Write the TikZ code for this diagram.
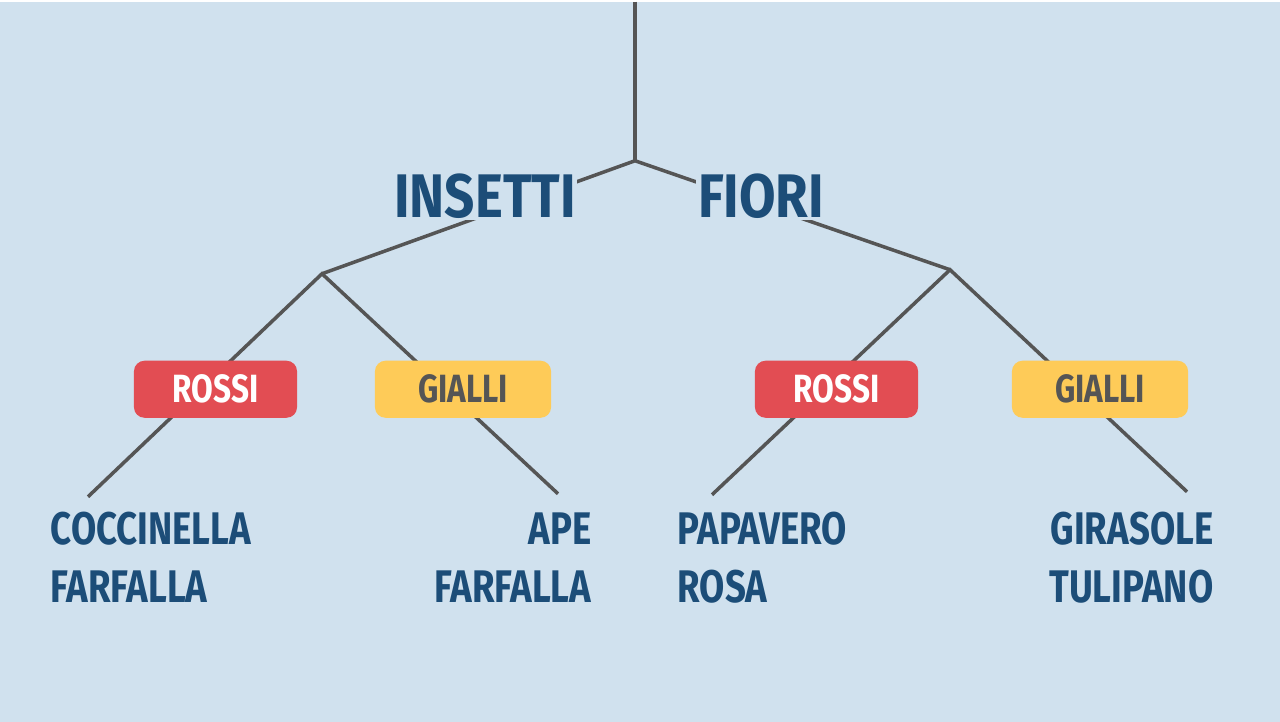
\documentclass[tikz,border=0pt]{standalone}
\usepackage{fontspec}
\newfontfamily\handfont{Fira Sans}[FakeStretch=0.8]
\newfontfamily\titlefont{Fira Sans}[FakeStretch=0.86]
\definecolor{wall}{HTML}{D0E1EE}
\definecolor{ink}{HTML}{1C4D78}
\definecolor{branch}{HTML}{555555}
\definecolor{redbox}{HTML}{E24D53}
\definecolor{yellowbox}{HTML}{FECB58}
\tikzset{
    stem/.style={draw=branch, line width=1pt},
    heading/.style={font=\titlefont\bfseries\fontsize{17.5}{21}\selectfont, text=ink, fill=wall, inner sep=0.5pt},
    tag/.style={rounded corners=3pt, minimum width=#1, minimum height=0.57cm, inner sep=0pt,
            font=\handfont\bfseries\fontsize{11.2}{13}\selectfont},
    redtag/.style={tag=1.63cm, fill=redbox, text=white},
    yellowtag/.style={tag=1.76cm, fill=yellowbox, text=branch},
    leaf/.style={font=\handfont\bfseries\fontsize{13}{16.5}\selectfont, text=ink, inner sep=0pt},
}

\begin{document}
\begin{tikzpicture}[x=0.01cm, y=-0.01cm]
        %draw background
        \fill[wall] (0, 0) rectangle (1280, 720);
        %draw joints
        \coordinate (top) at (635, 0);
        \coordinate (root) at (635, 159);
        \coordinate (jins) at (322, 272);
        \coordinate (jfio) at (950, 268);
        \coordinate (e1) at (88, 495);
        \coordinate (e2) at (558, 492);
        \coordinate (e3) at (712, 493);
        \coordinate (e4) at (1187, 490);
        %draw branches
        \draw[stem] (top) -- (root);
        \draw[stem] (jins) -- (root) -- (jfio);
        \draw[stem] (e1) -- (jins) -- (e2);
        \draw[stem] (e3) -- (jfio) -- (e4);
        %draw headings
        \node[heading] (insetti) at (485, 194) {INSETTI};
        \node[heading] (fiori) at (761, 194) {FIORI};
        %draw tags
        \node[redtag] (rossiA) at (215.5, 387.5) {ROSSI};
        \node[yellowtag] (gialliA) at (463, 387.5) {GIALLI};
        \node[redtag] (rossiB) at (836.5, 387.5) {ROSSI};
        \node[yellowtag] (gialliB) at (1100, 387.5) {GIALLI};
        %draw leaves
        \node[leaf, anchor=north west, align=left] (coccinella) at (50, 510) {COCCINELLA\\FARFALLA};
        \node[leaf, anchor=north east, align=right] (ape) at (592, 510) {APE\\FARFALLA};
        \node[leaf, anchor=north west, align=left] (papavero) at (677, 510) {PAPAVERO\\ROSA};
        \node[leaf, anchor=north east, align=right] (girasole) at (1214, 510) {GIRASOLE\\TULIPANO};
    \end{tikzpicture}
\end{document}
